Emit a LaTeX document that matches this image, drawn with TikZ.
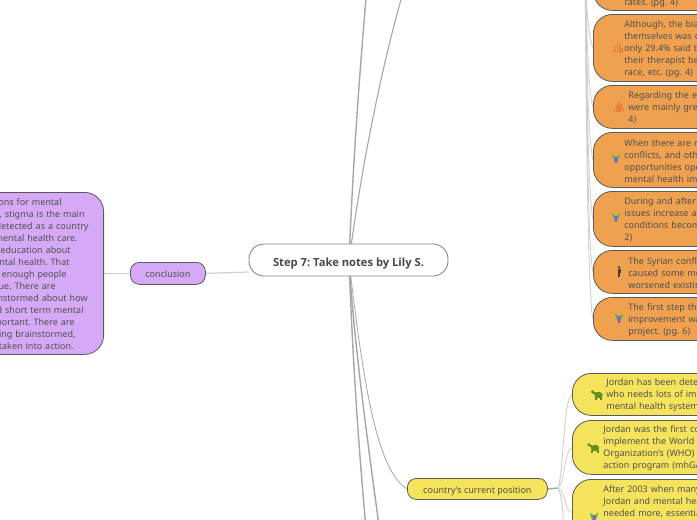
\documentclass[tikz,border=0pt]{standalone}
\usepackage{fontspec}
\setmainfont{Noto Sans}
\newfontfamily\titlefont{Open Sans}
\usetikzlibrary{backgrounds}
\definecolor{txt}{HTML}{505050}
\definecolor{edge}{HTML}{5A5A5A}
\definecolor{orangebox}{HTML}{F0A150}
\definecolor{purplebox}{HTML}{D5A9F5}
\definecolor{yellowbox}{HTML}{F5E35B}
\definecolor{mainline}{HTML}{A6A6A6}
\definecolor{subline}{HTML}{CFCFCF}
\definecolor{barcol}{HTML}{E97F3C}
\definecolor{shellcol}{HTML}{5E8F1E}
\frenchspacing
\tikzset{
  x=1pt,y=-1pt,
  basebox/.style={draw=edge,line width=0.8pt,text=txt,font=\fontsize{9}{12}\selectfont\frenchspacing,inner ysep=0pt,anchor=north west,align=left,text width=220pt,execute at begin node={\rule{0pt}{9pt}}},
  orangenode/.style={basebox,fill=orangebox,rounded corners=19pt},
  yellownode/.style={basebox,fill=yellowbox,rounded corners=19pt},
  pillnode/.style={draw=edge,line width=0.8pt,text=txt,font=\fontsize{9}{12}\selectfont,rounded corners=9pt,inner sep=0pt,anchor=north west,align=center},
  mainconn/.style={draw=mainline,line width=1.4pt},
  thinmain/.style={draw=mainline,line width=0.8pt},
  subconn/.style={draw=subline,line width=0.9pt},
  iconbars/.pic={
    \fill[barcol] (-5,5) rectangle (-3.6,1);
    \fill[barcol] (-3,5) rectangle (-1.4,-2);
    \fill[barcol] (-0.8,5) rectangle (0.8,-5);
    \fill[barcol] (1.4,5) rectangle (3,-3);
    \fill[barcol] (3.6,5) rectangle (5,0);
  },
  iconfly/.pic={
    \fill[green!50!gray] (-4,-4.5) -- (0,-1) -- (4,-4.5) -- (3,0) -- (-3,0) -- cycle;
    \fill[cyan!50!gray] (-3,0) -- (0,-1) -- (3,0) -- (2,3) -- (-2,3) -- cycle;
    \fill[violet!70!white] (-1,-2) rectangle (1,4.5);
  },
  iconperson/.pic={
    \fill[black!75] (0,-3.8) circle (1.3);
    \fill[black!75] (-1.5,-2.2) rectangle (1.5,1.5);
    \fill[black!75] (-0.9,1.5) rectangle (0.9,5.5);
  },
  iconturtle/.pic={
    \fill[shellcol] (0,0) ellipse (4.2 and 3.2);
    \fill[shellcol] (-6,-3.2) circle (1.7);
    \fill[shellcol] (-5.5,-3) rectangle (-3,-0.6);
    \fill[shellcol] (-3.8,2) rectangle (-1.8,4.6);
    \fill[shellcol] (1.8,2) rectangle (3.8,4.6);
  },
}
\begin{document}
\begin{tikzpicture}
\useasboundingbox (0,0) rectangle (697,520);
% root and main topics
\node[draw=mainline!80!black,line width=0.9pt,fill=white,rounded corners=15pt,minimum width=199pt,minimum height=32pt,inner sep=0pt,text=txt!90!black,font=\titlefont\fontsize{11.2}{12}\selectfont\bfseries] (root) at (348.5,260) {\raisebox{-2pt}[\height][0pt]{Step 7: Take notes by Lily S.}};
\node[pillnode,fill=purplebox,minimum width=75pt,minimum height=22pt] (conclusion) at (130,262) {\raisebox{-1pt}[\height][0pt]{conclusion}};
\node[pillnode,fill=yellowbox,minimum width=140pt,minimum height=21pt] (country) at (407,478) {\raisebox{-1pt}[\height][0pt]{country's current position}};
% purple note
\node[basebox,fill=purplebox,anchor=north east,rounded corners=19pt,align=right,minimum height=162pt,inner xsep=15pt] (note) at (104,192) {%
ons for mental\hspace*{27pt}\mbox{}\\
, stigma is the main\hspace*{4pt}\mbox{}\\
detected as a country\\
mental health care.\hspace*{11pt}\mbox{}\\
education about\hspace*{18pt}\mbox{}\\
ental health. That\hspace*{19pt}\mbox{}\\
enough people\hspace*{22pt}\mbox{}\\
ue. There are\hspace*{33pt}\mbox{}\\
nstormed about how\hspace*{1pt}\mbox{}\\
d short term mental\hspace*{5pt}\mbox{}\\
portant. There are\hspace*{14pt}\mbox{}\\
ing brainstormed,\hspace*{13pt}\mbox{}\\
taken into action.\hspace*{15pt}\mbox{}};
% orange notes
\node[orangenode,minimum height=40pt,inner xsep=31pt] (o1) at (593,-30) {\mbox{}\\ \mbox{}\\ rates. (pg. 4)};
\node[orangenode,minimum height=67pt,inner xsep=31pt] (o2) at (593,14) {Although, the bia\\ themselves was c\\ only 29.4\% said t\\ their therapist be\\ race, etc. (pg. 4)};
\node[orangenode,minimum height=43pt,inner xsep=35pt] (o3) at (593,85) {Regarding the ef\\ were mainly gre\\ 4)};
\node[orangenode,minimum height=55pt,inner xsep=31pt] (o4) at (593,132) {When there are n\\ conflicts, and oth\\ opportunities ope\\ mental health im};
\node[orangenode,minimum height=55pt,inner xsep=31pt] (o5) at (593,191) {During and after\\ issues increase a\\ conditions becom\\ 2)};
\node[orangenode,minimum height=43pt,inner xsep=35pt] (o6) at (593,250) {The Syrian confli\\ caused some me\\ worsened existin};
\node[orangenode,minimum height=43pt,inner xsep=35pt] (o7) at (593,297) {The first step tha\\ improvement wa\\ project. (pg. 6)};
% yellow notes
\node[yellownode,minimum height=42pt,inner xsep=34pt] (y1) at (572,373) {Jordan has been dete\\ who needs lots of imp\\ mental health system};
\node[yellownode,minimum height=54pt,inner xsep=31pt] (y2) at (572,420) {Jordan was the first co\\ implement the World H\\ Organization's (WHO) r\\ action program (mhGA};
\node[yellownode,minimum height=66pt,inner xsep=31pt] (y3) at (572,479) {After 2003 when many\\ Jordan and mental hea\\ needed more, essentia\\ \mbox{}\\ \mbox{}};
% icons
\pic at (617.5,48) {iconbars};
\pic at (619,107) {iconbars};
\pic at (616,158.5) {iconfly};
\pic at (616,217.5) {iconfly};
\pic at (619,271) {iconperson};
\pic at (619,318) {iconfly};
\pic at (598.5,395) {iconturtle};
\pic at (595,448) {iconturtle};
\pic at (594,517) {iconfly};
% free ends
\coordinate (up1) at (366,-2);
\coordinate (up2) at (401.5,-2);
\coordinate (down1) at (365.5,522);
\coordinate (down2) at (378.5,522);
\coordinate (trunk) at (585,-40);
\coordinate (fork) at (558,488);
\coordinate (yout) at (563,522);
% connectors
\begin{scope}[on background layer]
\draw[subconn,line width=1.2pt] (root.west |- 0,272) -- (conclusion.east);
\draw[subconn,line width=1.2pt] (conclusion.west) -- (note.east);
\draw[mainconn] (349,262) .. controls (353,160) and (360,70) .. (up1);
\draw[thinmain,line width=1.1pt] (349,262) .. controls (358,190) and (378,80) .. (up2);
\draw[mainconn] (349,262) .. controls (352,340) and (357,430) .. (down1);
\draw[mainconn] (349,262) .. controls (354,340) and (366,430) .. (down2);
\draw[thinmain] (349,262) .. controls (362,370) and (375,470) .. (country.west);
\draw[mainconn] (country.east) -- (fork);
\foreach \t/\a/\b in {o2/0/36,o3/10/95,o4/30/145,o5/50/200,o6/80/255,o7/110/300}
  \draw[subconn] (trunk) .. controls (586,\a) and (588,\b) .. (\t.west);
\draw[subconn] (fork) .. controls (564,470) and (563,400) .. (y1.west);
\draw[subconn] (fork) .. controls (565,482) and (564,452) .. (y2.west);
\draw[subconn] (fork) .. controls (566,492) and (565,512) .. (y3.west);
\draw[subconn] (fork) .. controls (561,494) and (563,505) .. (yout);
\end{scope}
\end{tikzpicture}
\end{document}
